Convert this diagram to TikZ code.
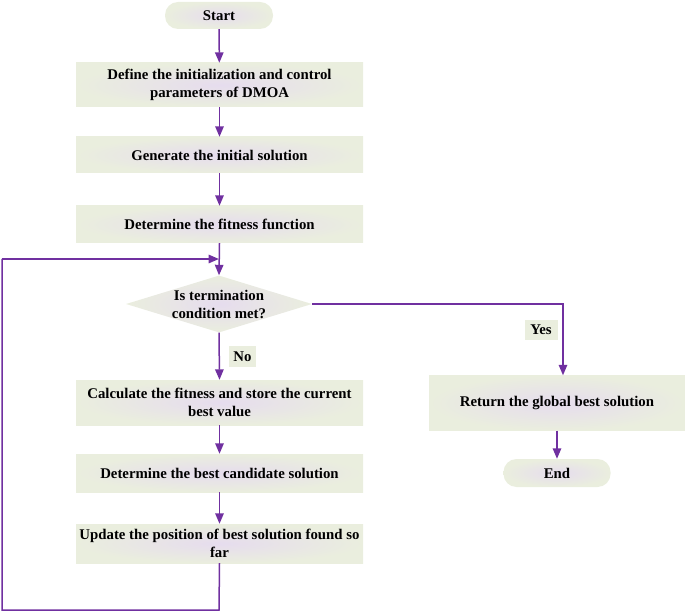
\documentclass[tikz,border=0pt]{standalone}
\usepackage{fontspec}
\setmainfont{Liberation Serif}
\usetikzlibrary{shapes.geometric,arrows.meta}
\definecolor{boxfill}{RGB}{234,238,222}
\definecolor{glow}{RGB}{230,220,238}
\definecolor{linec}{RGB}{112,48,160}
\tikzset{
  base/.style={font=\fontsize{14.8}{18}\selectfont\bfseries, align=center, inner sep=0pt,
    inner color=glow, outer color=boxfill},
  procbox/.style={base, rectangle, minimum width=287pt},
  pill/.style={base, rectangle, rounded corners=13pt},
  lbl/.style={font=\fontsize{14.8}{18}\selectfont\bfseries, fill=boxfill, inner sep=0pt},
  conn/.style={draw=linec, line width=1.5pt},
  arr/.style={conn, -{Triangle[width=8.5pt,length=10.5pt]}}
}
\begin{document}
\begin{tikzpicture}[x=1pt,y=-1pt]
\useasboundingbox (0,0) rectangle (685,612);
\node[pill, minimum width=108pt, minimum height=27pt] (start) at (219,15.5) {Start};
\node[procbox, minimum height=44pt] (b1) at (219.5,85) {Define the initialization and control\\parameters of DMOA};
\node[procbox, minimum height=36pt] (b2) at (219.5,155) {Generate the initial solution};
\node[procbox, minimum height=37pt] (b3) at (219.5,224.5) {Determine the fitness function};
\node[base, diamond, minimum width=186pt, minimum height=57pt, inner sep=0pt] (dec) at (219,304) {};
\node[font=\fontsize{14.8}{18}\selectfont\bfseries, align=center] (dectext) at (219,304) {Is termination\\condition met?};
\node[procbox, minimum height=45pt] (b4) at (219.5,402.5) {Calculate the fitness and store the current\\best value};
\node[procbox, minimum height=38pt] (b5) at (219.5,473) {Determine the best candidate solution};
\node[procbox, minimum height=39pt] (b6) at (219.5,543.5) {Update the position of best solution found so\\far};
\node[procbox, minimum width=256pt, minimum height=55pt] (ret) at (557,403) {Return the global best solution};
\node[pill, minimum width=107pt, minimum height=28pt] (end) at (557,473) {End};
\node[lbl, minimum width=27pt, minimum height=21pt] (no) at (242.5,356.5) {No};
\node[lbl, minimum width=33pt, minimum height=20pt] (yes) at (541,330) {Yes};
\coordinate (cR) at (563,304);
\coordinate (lb) at (219,610);
\coordinate (lbL) at (2,610);
\coordinate (ltL) at (2,259);
\coordinate (lt) at (219,259);
\draw[arr] (start) -- (b1);
\draw[arr] (b1) -- (b2);
\draw[arr] (b2) -- (b3);
\draw[arr] (b3.south) -- (dec.north);
\draw[arr] (dec.south) -- (b4.north);
\draw[arr] (b4) -- (b5);
\draw[arr] (b5) -- (b6);
\draw[arr] (dec.east) -- (cR) -- (ret.north -| cR);
\draw[arr] (ret) -- (end);
\draw[conn] (b6.south) -- (lb) -- (lbL) -- (ltL);
\draw[arr] (ltL) -- (lt);
\end{tikzpicture}
\end{document}
